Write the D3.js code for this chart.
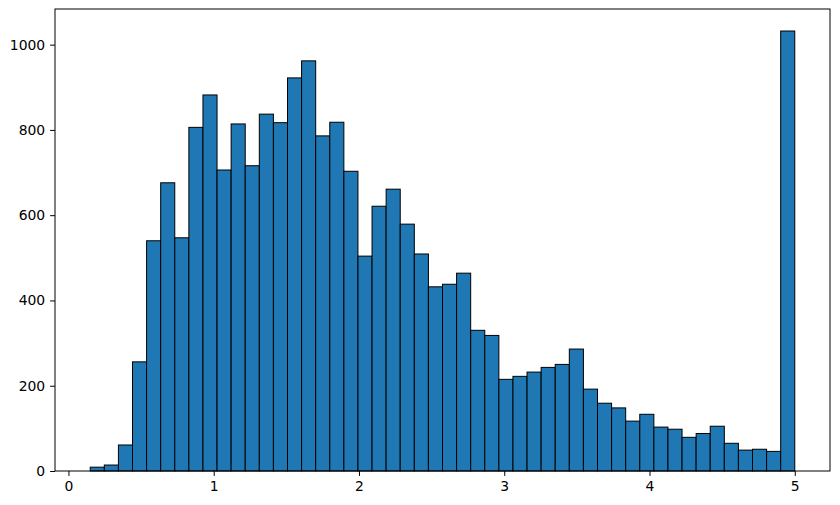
<!DOCTYPE html>
<html>
<head>
<meta charset="utf-8">
<script src="https://cdn.jsdelivr.net/npm/d3@7"></script>
<style>
  body { margin: 0; background: #fff; }
  svg { display: block; }
  text { font-family: "DejaVu Sans", sans-serif; }
</style>
</head>
<body>
<svg id="chart" width="840" height="505"></svg>
<script>
// Histogram data (50 equal-width bins between binMin and binMax)
const binMin = 0.14999;
const binMax = 5.00001;
const counts = [9, 14, 61, 256, 540, 676, 547, 806, 882, 706,
                814, 716, 837, 817, 922, 962, 786, 818, 703, 504,
                621, 661, 579, 509, 432, 438, 464, 330, 318, 215,
                222, 232, 243, 250, 286, 192, 159, 148, 117, 133,
                103, 98, 79, 88, 105, 65, 49, 51, 46, 1032];
const xTicks = [0, 1, 2, 3, 4, 5];
const yTicks = [0, 200, 400, 600, 800, 1000];

const nBins = counts.length;
const binW = (binMax - binMin) / nBins;
const bins = counts.map((c, i) => ({ x0: binMin + i * binW, x1: binMin + (i + 1) * binW, count: c }));

const margin = { left: 55, right: 10, top: 9, bottom: 34 };
const W = 840, H = 505;
const svg = d3.select("#chart");

const span = binMax - binMin;
const x = d3.scaleLinear()
  .domain([binMin - 0.05 * span, binMax + 0.05 * span])
  .range([margin.left, W - margin.right]);
const yMax = d3.max(counts) * 1.05;
const y = d3.scaleLinear()
  .domain([0, yMax])
  .range([H - margin.bottom, margin.top]);

svg.append("g")
  .selectAll("rect")
  .data(bins)
  .join("rect")
  .attr("x", d => x(d.x0))
  .attr("y", d => y(d.count))
  .attr("width", d => x(d.x1) - x(d.x0))
  .attr("height", d => y(0) - y(d.count))
  .attr("fill", "#1f77b4")
  .attr("stroke", "#000")
  .attr("stroke-width", 1);

const fontSize = "13.9px";

const xAxis = svg.append("g")
  .attr("transform", `translate(0,${H - margin.bottom})`)
  .call(d3.axisBottom(x).tickValues(xTicks).tickFormat(d3.format("d")).tickSize(4.9).tickPadding(4.9));
xAxis.select(".domain").remove();
xAxis.selectAll("text").attr("font-size", fontSize).attr("fill", "#000").attr("font-family", "DejaVu Sans");
xAxis.selectAll("line").attr("stroke", "#000").attr("stroke-width", 1);

const yAxis = svg.append("g")
  .attr("transform", `translate(${margin.left},0)`)
  .call(d3.axisLeft(y).tickValues(yTicks).tickFormat(d3.format("d")).tickSize(4.9).tickPadding(4.9));
yAxis.select(".domain").remove();
yAxis.selectAll("text").attr("font-size", fontSize).attr("fill", "#000").attr("font-family", "DejaVu Sans");
yAxis.selectAll("line").attr("stroke", "#000").attr("stroke-width", 1);

// Frame
svg.append("rect")
  .attr("x", margin.left)
  .attr("y", margin.top)
  .attr("width", W - margin.left - margin.right)
  .attr("height", H - margin.top - margin.bottom)
  .attr("fill", "none")
  .attr("stroke", "#000")
  .attr("stroke-width", 1);
</script>
</body>
</html>
